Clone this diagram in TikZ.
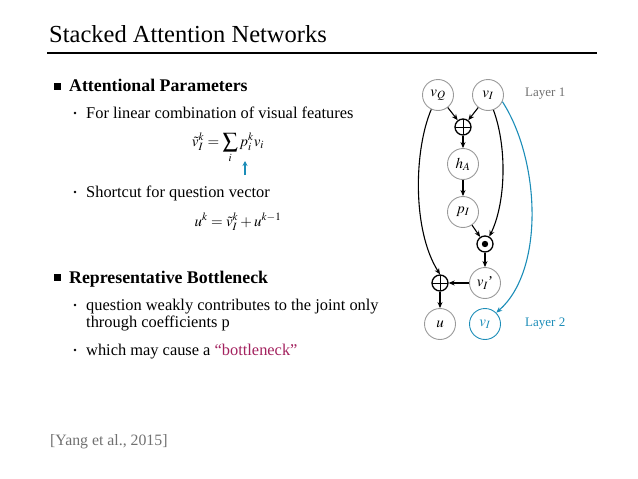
\documentclass[tikz,border=0pt]{standalone}
\usepackage{mathptmx}
\usepackage{fontspec}
\setmainfont{Liberation Serif}
\usetikzlibrary{arrows.meta}
\definecolor{cblue}{HTML}{1C8DB8}
\definecolor{cmag}{HTML}{A3215E}
\definecolor{cgray}{HTML}{9A9A9A}
\definecolor{tgray}{HTML}{707070}
\tikzset{
  vnode/.style={circle,draw=cgray,line width=0.9pt,minimum size=31pt,inner sep=0pt,font=\fontsize{15}{17}\selectfont},
  opplus/.style={circle,draw=black,line width=1.3pt,minimum size=16pt,inner sep=0pt,
    path picture={\draw[line width=1pt] (path picture bounding box.north) -- (path picture bounding box.south)
      (path picture bounding box.west) -- (path picture bounding box.east);}},
  opdot/.style={circle,draw=black,line width=1.3pt,minimum size=16pt,inner sep=0pt,
    path picture={\fill (path picture bounding box.center) circle (3.2pt);}},
  arr/.style={-{Stealth[length=6pt,width=5pt]},line width=1.1pt},
  txt/.style={anchor=base west,inner sep=0pt,font=\fontsize{16.4}{19}\selectfont},
  hd/.style={anchor=base west,inner sep=0pt,font=\fontsize{17.8}{21}\selectfont\bfseries},
  sq/.style={fill=black,minimum size=7pt,inner sep=0pt},
  dotb/.style={fill=black,circle,minimum size=2.6pt,inner sep=0pt},
  eqn/.style={anchor=center,inner sep=0pt,font=\fontsize{15}{17}\selectfont},
}
\begin{document}
\begin{tikzpicture}[x=1pt,y=-1pt]
\useasboundingbox (0,0) rectangle (638,479);
% title
\node[anchor=base west,inner sep=0pt,font=\fontsize{24.5}{28}\selectfont] (title) at (49,42) {Stacked Attention Networks};
\draw[line width=1.4pt] (47,53) -- (597,53);
% bullets
\node[sq] (s1) at (57,86) {};
\node[hd] (h1) at (69,91) {Attentional Parameters};
\node[dotb] (d1) at (75,113) {};
\node[txt] (t1) at (86,118) {For linear combination of visual features};
\node[eqn] (eq1) at (228,148) {$\displaystyle\tilde{v}_I^k=\sum_i p_i^k v_i$};
\coordinate (ab) at (245,175);
\coordinate (at) at (245,161);
\draw[-{Stealth[length=5pt,width=5pt]},line width=1.2pt,cblue] (ab) -- (at);
\node[dotb] (d2) at (75,192) {};
\node[txt] (t2) at (86,197) {Shortcut for question vector};
\node[eqn] (eq2) at (238,222) {$u^k=\tilde{v}_I^k+u^{k-1}$};
\node[sq] (s2) at (57,277) {};
\node[hd] (h2) at (69,283) {Representative Bottleneck};
\node[dotb] (d3) at (75,305) {};
\node[txt] (t3) at (86,310) {question weakly contributes to the joint only};
\node[txt] (t4) at (86,327) {through coefficients p};
\node[dotb] (d4) at (75,350) {};
\node[txt] (t5) at (86,355) {which may cause a \textcolor{cmag}{“bottleneck”}};
\node[anchor=base west,inner sep=0pt,font=\fontsize{15.8}{18}\selectfont,text=tgray] (ref) at (50,445) {[Yang et al., 2015]};
% graph
\node[vnode] (vq) at (438,95) {$v_Q$};
\node[vnode] (vi) at (488,95) {$v_I$};
\node[opplus] (p1) at (463,127) {};
\node[vnode] (ha) at (463,164) {$h_A$};
\node[vnode] (pi) at (463,212) {$p_I$};
\node[opdot] (od) at (485,244) {};
\node[vnode] (vip) at (485,283) {$v_I$'};
\node[opplus] (p2) at (440,283) {};
\node[vnode] (u) at (440,324) {$u$};
\node[vnode,draw=cblue,text=cblue] (vi2) at (485,324) {$v_I$};
\node[anchor=west,inner sep=0pt,font=\fontsize{13}{15}\selectfont,text=tgray] (l1) at (525,94) {Layer 1};
\node[anchor=west,inner sep=0pt,font=\fontsize{13}{15}\selectfont,text=cblue] (l2) at (525,324) {Layer 2};
\draw[arr] (vq) -- (p1);
\draw[arr] (vi) -- (p1);
\draw[arr] (p1) -- (ha);
\draw[arr] (ha) -- (pi);
\draw[arr] (pi) -- (od);
\draw[arr] (vi.-70) .. controls (508,150) and (505,205) .. (od.60);
\draw[arr] (od) -- (vip);
\draw[arr] (vip) -- (p2);
\draw[arr] (vq.-115) .. controls (414,150) and (412,230) .. (p2.north);
\draw[arr] (p2) -- (u);
\draw[-{Stealth[length=6pt,width=5pt]},line width=1.1pt,cblue] (vi.-25) .. controls (540,160) and (545,270) .. (vi2.45);
\end{tikzpicture}
\end{document}
